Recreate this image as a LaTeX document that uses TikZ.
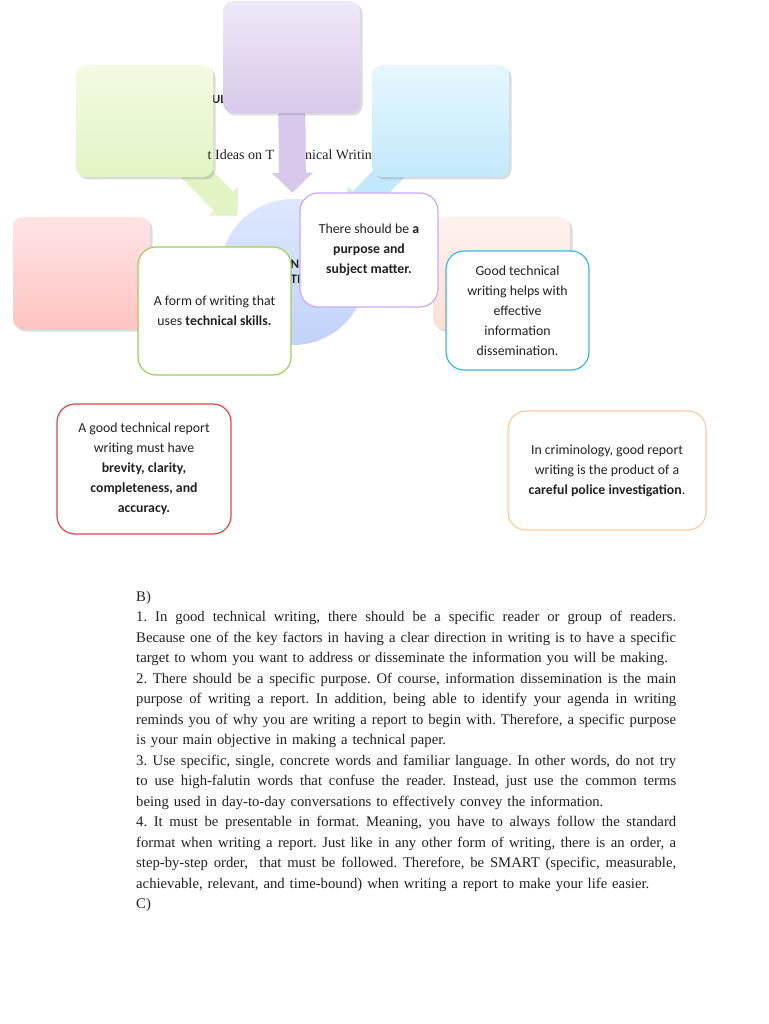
\documentclass[tikz,border=0pt]{standalone}
\usepackage{fontspec}
\setmainfont{Liberation Serif}
\newfontfamily\boxfont{Carlito}
\usetikzlibrary{arrows.meta,shadows,backgrounds}
\definecolor{lilacTop}{HTML}{EFE9F7}
\definecolor{lilacBot}{HTML}{D8C8EB}
\definecolor{limeTop}{HTML}{F3FBE3}
\definecolor{limeBot}{HTML}{E0F5C3}
\definecolor{skyTop}{HTML}{E5F7FE}
\definecolor{skyBot}{HTML}{C2E9FB}
\definecolor{roseTop}{HTML}{FFE4E4}
\definecolor{roseBot}{HTML}{FFC3C3}
\definecolor{peachTop}{HTML}{FEF2EC}
\definecolor{peachBot}{HTML}{FDE0D4}
\definecolor{hubTop}{HTML}{DEE7FD}
\definecolor{hubBot}{HTML}{C1D2F9}
\definecolor{limeLine}{HTML}{9BD15A}
\definecolor{lilacLine}{HTML}{CFA6F6}
\definecolor{skyLine}{HTML}{3DB6E8}
\definecolor{roseLine}{HTML}{E04646}
\definecolor{peachLine}{HTML}{F9CC9F}
\definecolor{ink}{HTML}{222222}
\newcommand{\jline}[1]{\leavevmode\hbox to 540pt{\spaceskip=0pt\xspaceskip=0pt #1}}

\begin{document}
\begin{tikzpicture}[x=1pt,y=-1pt,
  tile/.style 2 args={rounded corners=10pt, minimum width=137pt, minimum height=112pt,
    top color=#1, bottom color=#2, draw=none,
    drop shadow={opacity=.28, shadow xshift=2.5pt, shadow yshift=-2.5pt}},
  note/.style={draw=#1, line width=1.2pt, fill=white, rounded corners=18pt, align=center,
    font=\boxfont\fontsize{13.8}{20}\selectfont, text=ink, inner sep=3pt},
  fatarrow/.style={draw=#1, line width=27pt, -{Triangle[width=40pt,length=20pt]}, shorten >=6pt}]
  \useasboundingbox (0,0) rectangle (768,1024);

  % tiles
  \node[tile={lilacTop}{lilacBot}] (pbox) at (291.5,57) {};
  \node[tile={limeTop}{limeBot}] (gbox) at (144.5,121) {};
  \node[tile={skyTop}{skyBot}] (bbox) at (440.5,121) {};
  \node[tile={roseTop}{roseBot}] (rbox) at (81.5,273) {};
  \node[tile={peachTop}{peachBot}] (obox) at (501.5,273) {};
  \node[anchor=base west, inner sep=0pt, font=\fontsize{14}{17}\selectfont, text=ink] (headB) at (207.5,160) {t Ideas on T};

  % hub
  \node[circle, minimum size=146pt, top color=hubTop, bottom color=hubBot] (hub) at (293,272) {};
  \node[anchor=base west, inner sep=0pt, font=\boxfont\bfseries\fontsize{13}{15}\selectfont, text=ink] (hubA) at (290.5,268) {N};
  \node[anchor=base west, inner sep=0pt, font=\boxfont\bfseries\fontsize{13}{15}\selectfont, text=ink] (hubB) at (290.5,283) {TI};

  % notes
  \node[note=limeLine, minimum width=153pt, minimum height=128pt] (gnote) at (214.5,311)
    {A form of writing that\\uses \textbf{technical skills.}};
  \node[note=peachLine, minimum width=198pt, minimum height=119pt] (onote) at (607,470.5)
    {In criminology, good report\\writing is the product of a\\\textbf{careful police investigation}.};
  \node[note=lilacLine, minimum width=138pt, minimum height=114pt] (pnote) at (369,250)
    {There should be \textbf{a}\\\textbf{purpose and}\\\textbf{subject matter.}};
  \node[note=skyLine, minimum width=143pt, minimum height=119pt] (bnote) at (517.5,310.5)
    {Good technical\\writing helps with\\effective\\information\\dissemination.};
  \node[note=roseLine, minimum width=174pt, minimum height=130pt] (rnote) at (144,469)
    {A good technical report\\writing must have\\\textbf{brevity, clarity,}\\\textbf{completeness, and}\\\textbf{accuracy.}};

  % body text
  \node[anchor=north west, inner sep=0pt, text width=540pt, align=left, text=ink,
    font=\fontsize{14.7}{20.5}\selectfont\frenchspacing] (body) at (136,591) {\noindent
    B)\\
    \jline{1. In good technical writing, there should be a specific reader or group of readers.}\\
    \jline{Because one of the key factors in having a clear direction in writing is to have a specific}\\
    target to whom you want to address or disseminate the information you will be making.\\
    \jline{2. There should be a specific purpose. Of course, information dissemination is the main}\\
    \jline{purpose of writing a report. In addition, being able to identify your agenda in writing}\\
    \jline{reminds you of why you are writing a report to begin with. Therefore, a specific purpose}\\
    is your main objective in making a technical paper.\\
    \jline{3. Use specific, single, concrete words and familiar language. In other words, do not try}\\
    \jline{to use high-falutin words that confuse the reader. Instead, just use the common terms}\\
    being used in day-to-day conversations to effectively convey the information.\\
    \jline{4. It must be presentable in format. Meaning, you have to always follow the standard}\\
    \jline{format when writing a report. Just like in any other form of writing, there is an order, a}\\
    \jline{step-by-step order,\ \ that must be followed. Therefore, be SMART (specific, measurable,}\\
    achievable, relevant, and time-bound) when writing a report to make your life easier.\\
    C)};

  \begin{scope}[on background layer]
    \fill[white] (0,0) rectangle (768,1024);
    % title fragments behind the tiles
    \node[anchor=base west, inner sep=0pt, font=\boxfont\bfseries\fontsize{12.5}{15}\selectfont, text=ink] (headA) at (212,104) {UL};
    \node[anchor=base west, inner sep=0pt, font=\fontsize{14}{17}\selectfont, text=ink] (headC) at (305,160) {nical Writing};
    % arrows into the hub
    \draw[fatarrow=lilacBot] (pbox.center) -- (hub);
    \draw[fatarrow=limeBot] (gbox.center) -- (hub);
    \draw[fatarrow=skyBot] (bbox.center) -- (hub);
  \end{scope}
\end{tikzpicture}
\end{document}
